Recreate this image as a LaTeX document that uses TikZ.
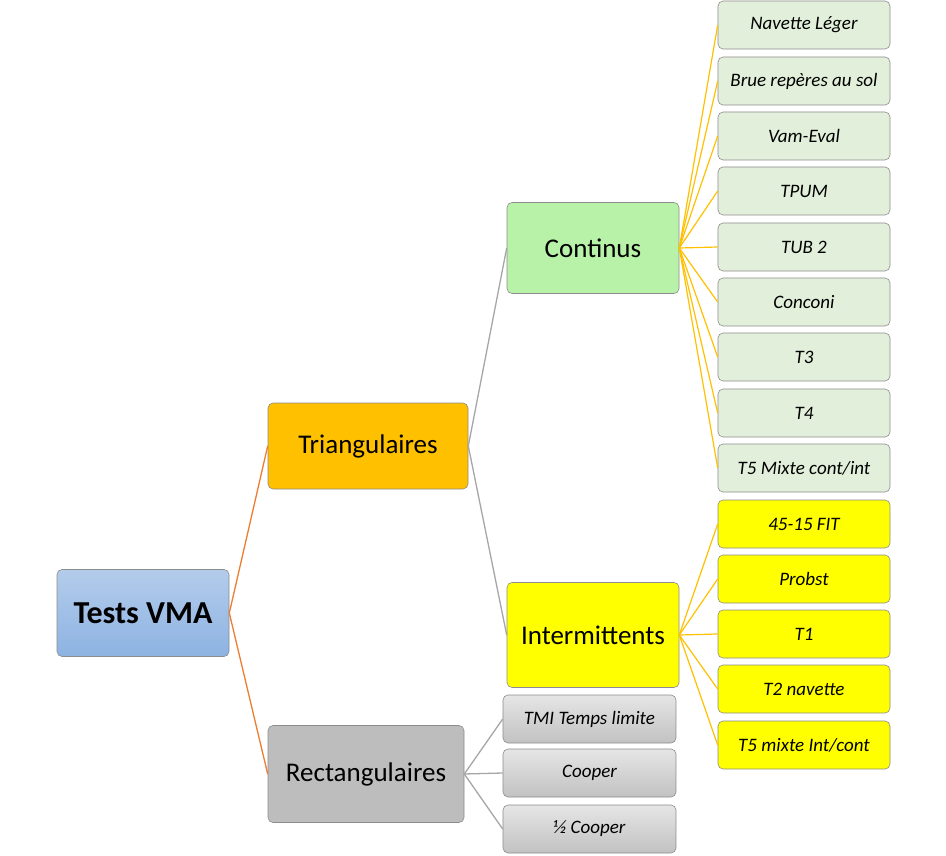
\documentclass[tikz,border=0pt]{standalone}
\usepackage{fontspec}
\setmainfont{Carlito}
\definecolor{rootA}{HTML}{B4CCEB}
\definecolor{rootB}{HTML}{8DB3E2}
\definecolor{triC}{HTML}{FFC000}
\definecolor{contC}{HTML}{B8F2A8}
\definecolor{leafG}{HTML}{E2EFDA}
\definecolor{yel}{HTML}{FFFF00}
\definecolor{orl}{HTML}{ED7D31}
\definecolor{yl}{HTML}{FFC000}
\definecolor{rectC}{HTML}{BDBDBD}
\begin{document}
\begin{tikzpicture}[x=1pt,y=-1pt,
 box/.style={draw=black!45,rounded corners=5pt,line width=0.6pt,align=center,inner sep=0pt},
 leaf/.style={box,minimum width=172pt,minimum height=48pt,font=\fontsize{19}{22}\selectfont\itshape},
 mid/.style={box,font=\fontsize{27}{32}\selectfont},
 ylink/.style={draw=yl,line width=1.2pt},
 glink/.style={draw=black!35,line width=1.3pt},
 olink/.style={draw=orl,line width=1.3pt}]
\useasboundingbox (0,0) rectangle (946,856);
\node[box,minimum width=172pt,minimum height=87pt,top color=rootA,bottom color=rootB,font=\fontsize{32}{36}\selectfont\bfseries] (root) at (143,613) {Tests VMA};
\node[mid,minimum width=200pt,minimum height=86pt,fill=triC] (tri) at (368,446) {Triangulaires};
\node[mid,minimum width=196pt,minimum height=97pt,fill=rectC] (rect) at (366,774) {Rectangulaires};
\node[mid,minimum width=172pt,minimum height=91pt,fill=contC] (cont) at (593,248) {Continus};
\node[mid,minimum width=172pt,minimum height=105pt,fill=yel] (inter) at (593,635) {Intermittents};
\draw[olink] (root.east) -- (tri.west);
\draw[olink] (root.east) -- (rect.west);
\draw[glink] (tri.east) -- (cont.west);
\draw[glink] (tri.east) -- (inter.west);
\foreach \t/\y [count=\i] in {Navette Léger/25,Brue repères au sol/81,Vam-Eval/136,TPUM/191,TUB 2/247,Conconi/302,T3/357,T4/413,{T5 Mixte cont/int}/468}{
 \node[leaf,fill=leafG] (c\i) at (804,\y) {\t};
 \draw[ylink] (cont.east) -- (c\i.west);}
\foreach \t/\y [count=\i] in {45-15 FIT/524,Probst/579,T1/634,T2 navette/689,{T5 mixte Int/cont}/745}{
 \node[leaf,fill=yel] (m\i) at (804,\y) {\t};
 \draw[ylink] (inter.east) -- (m\i.west);}
\foreach \t/\y [count=\i] in {TMI Temps limite/719,Cooper/773,½ Cooper/829}{
 \node[leaf,minimum width=173pt,top color=black!10,bottom color=black!24] (r\i) at (589.5,\y) {\t};
 \draw[glink] (rect.east) -- (r\i.west);}
\end{tikzpicture}
\end{document}
